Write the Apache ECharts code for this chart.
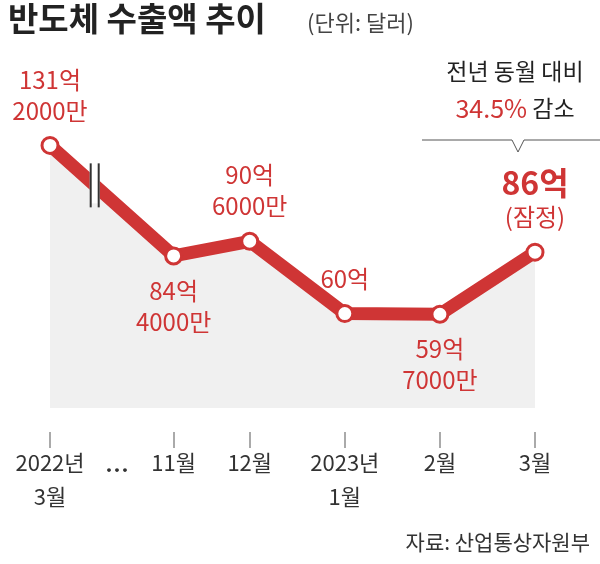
<!DOCTYPE html>
<html><head><meta charset="utf-8">
<script src="https://cdn.jsdelivr.net/npm/echarts@6/dist/echarts.min.js"></script>
<style>html,body{margin:0;padding:0;background:#fff}#c{width:600px;height:564px}</style>
</head><body><div id="c"></div>
<script>
const categories = ['2022년\n3월', '11월', '12월', '2023년\n1월', '2월', '3월'];
const xPos = [0, 1.3, 2.1, 3.1, 4.1, 5.1];
const values = [131.2, 84.4, 90.6, 60, 59.7, 86];
const valueLabels = ['131억\n2000만', '84억\n4000만', '90억\n6000만', '60억', '59억\n7000만', '{b|86억}\n(잠정)'];
const labelPos = ['top', 'bottom', 'top', 'top', 'bottom', 'top'];
const red = '#cf3535';
const F = '"Noto Sans CJK KR", sans-serif';
const chart = echarts.init(document.getElementById('c'));
chart.setOption({
  animation: false,
  grid: {left: 50, right: 65, top: 101, bottom: 156},
  xAxis: {type: 'value', min: 0, max: 5.1, offset: 24,
    axisLine: {show: false}, splitLine: {show: false},
    axisTick: {show: true, length: 16, lineStyle: {color: '#aaa', width: 2}, customValues: xPos},
    axisLabel: {customValues: xPos, margin: 14, fontSize: 22, color: '#333', fontFamily: F, lineHeight: 34,
      formatter: v => { const i = xPos.findIndex(p => Math.abs(p - v) < 1e-6); return i >= 0 ? categories[i] : ''; }}},
  yAxis: {type: 'value', min: 20, max: 150, show: false},
  series: [{
    type: 'line', z: 2,
    lineStyle: {color: red, width: 13}, symbol: 'circle', symbolSize: 16,
    itemStyle: {color: '#fff', borderColor: red, borderWidth: 3},
    areaStyle: {color: '#e9e9e9', origin: 'start'},
    label: {show: true, color: red, fontSize: 24, fontFamily: F, lineHeight: 31, distance: 10,
      formatter: p => valueLabels[p.dataIndex],
      rich: {b: {fontSize: 32, fontWeight: 'bold', color: red, fontFamily: F, lineHeight: 38}}},
    data: xPos.map((x, i) => ({value: [x, values[i]], label: {position: labelPos[i]}}))
  }]
});
const bx = 0.47;
const p0 = chart.convertToPixel({gridIndex: 0}, [bx, 131.2 + (84.4 - 131.2) * bx / 1.3]);
chart.setOption({graphic: [
  {type: 'text', left: 8, top: 2, style: {text: '반도체 수출액 추이', fontSize: 33, fontWeight: 'bold', fill: '#222', fontFamily: F}},
  {type: 'text', left: 307, top: 12, style: {text: '(단위: 달러)', fontSize: 22, fill: '#444', fontFamily: F}},
  {type: 'text', right: 10, top: 532, style: {text: '자료: 산업통상자원부', fontSize: 21, fill: '#333', fontFamily: F}},
  {type: 'text', left: 105, top: 458, style: {text: '…', fontSize: 24, fontWeight: 'bold', fill: '#333', fontFamily: F}},
  {type: 'rect', z: 100, shape: {x: p0[0] - 5, y: p0[1] - 18, width: 10, height: 36}, style: {fill: '#fff'}},
  {type: 'line', z: 100, shape: {x1: p0[0] - 4, y1: p0[1] - 22, x2: p0[0] - 4, y2: p0[1] + 22}, style: {stroke: '#333', lineWidth: 2}},
  {type: 'line', z: 100, shape: {x1: p0[0] + 4, y1: p0[1] - 22, x2: p0[0] + 4, y2: p0[1] + 22}, style: {stroke: '#333', lineWidth: 2}},
  {type: 'text', x: 515, y: 60, style: {text: '전년 동월 대비', fontSize: 23, fill: '#222', fontFamily: F, align: 'center'}},
  {type: 'text', x: 515, y: 96, style: {text: '{r|34.5%} 감소', fontSize: 23, fill: '#222', fontFamily: F, align: 'center',
    rich: {r: {fontSize: 25, fill: red, fontFamily: F}}}},
  {type: 'polyline', shape: {points: [[422, 140], [512, 140], [518, 152], [524, 140], [600, 140]]}, style: {stroke: '#555', lineWidth: 1, fill: null}}
]});
</script></body></html>
